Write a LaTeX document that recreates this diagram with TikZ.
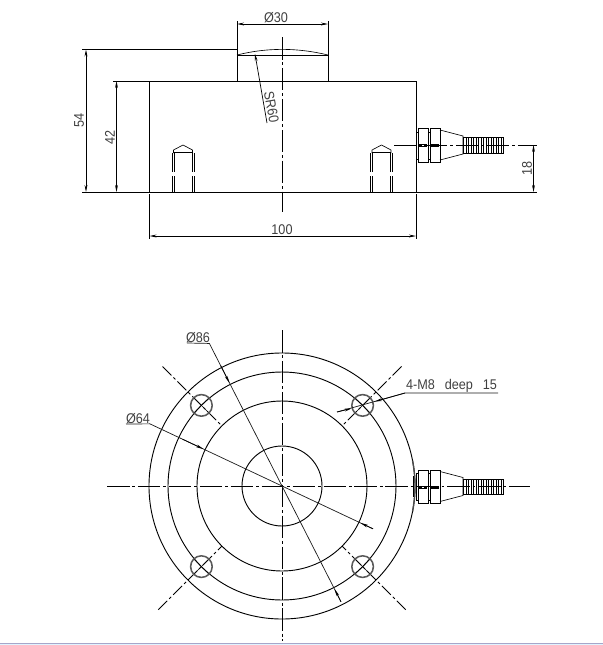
\documentclass[tikz,border=0pt]{standalone}
\usepackage{fontspec}
\setmainfont{Liberation Sans}[FakeStretch=0.9]
\usetikzlibrary{calc, arrows.meta}

\tikzset{
	part/.style = {line width = 0.65pt},
	thin part/.style = {line width = 0.45pt},
	axis/.style = {line width = 0.6pt, dash pattern = on 16pt off 2pt on 2pt off 2pt},
	dimline/.style = {line width = 0.55pt, <->, >={Stealth[length=5pt, width=2pt]}},
	leader/.style = {line width = 0.5pt, black!90},
	tip/.style = {line width = 0.5pt, -{Stealth[length=5pt, width=2pt]}},
	label/.style = {font = \fontsize{10}{11}\selectfont, text = black!75, inner sep = 0pt}
}

%cable plug, #1 = height of its axis
\newcommand{\cableplug}[1]{
	\begin{scope}[shift = {(0,-#1)}]
		%nuts
		\draw [part] (418,-17) rectangle (428,16.5);
		\draw [part] (430,-17) rectangle (440,16.5);
		\draw [part] (416,-14) -- (418,-14) (428,-14) -- (430,-14);
		\draw [part] (416,13) -- (418,13) (428,13) -- (430,13);
		\fill (419,-2) rectangle (427,1);
		\fill (431,-2) rectangle (439,1);
		\fill [white] (422,-1) rectangle (424,0);
		%cone
		\draw [thin part] (440,-15) -- (463,-9) -- (463,9) -- (440,15);
		%thread
		\draw [part] (463,-8) rectangle (503,7.5);
		\foreach \tx in {466,468.5,...,501}
			\draw [thin part] (\tx,-8) -- (\tx,7.5);
	\end{scope}
}

\begin{document}
\begin{tikzpicture}[x=0.025cm, y=0.025cm]
		\useasboundingbox (0,0) rectangle (603,-645);
		
		%front view
		\coordinate (F) at (282,-192);
		\draw [part] (149.5,-81) rectangle (416,-192);
		\draw [part] (237,-81) -- (237,-21);
		\draw [part] (328,-81) -- (328,-21);
		\draw [part] (237,-55.5) -- (328,-55.5);
		\draw [thin part] (237,-55) .. controls (267,-47.5) and (297,-47.5) .. (328,-55);
		
		%extension lines
		\draw [part] (82,-49.5) -- (237,-49.5);
		\draw [part] (113,-81) -- (149.5,-81);
		\draw [part] (82,-192) -- (537,-192);
		\draw [part] (149.5,-194) -- (149.5,-239);
		\draw [part] (416,-194) -- (416,-239);
		
		%threaded holes
		\foreach \hx in {183,381.5} {
			\draw [thin part] (\hx-9.5,-153) -- (\hx-9.5,-150) -- (\hx,-145) -- (\hx+9.5,-150) -- (\hx+9.5,-153);
			\draw [part] (\hx-9.5,-152) -- (\hx+9.5,-152);
			\foreach \hd in {-11,-9,9,11} {
				\draw [part] (\hx+\hd,-153) -- (\hx+\hd,-172);
				\draw [part] (\hx+\hd,-176) -- (\hx+\hd,-192);
			}
		}
		
		%axes of the front view
		\draw [axis] (282,-37) -- (282,-212);
		\draw [axis] (394,-145) -- (537,-145);
		\cableplug{145}
		
		%dimensions
		\coordinate (d30a) at (237,-24);
		\coordinate (d30b) at (328,-24);
		\draw [dimline] (d30a) -- (d30b);
		\node [label] (t30) at (276,-18) {Ø30};
		
		\coordinate (d54a) at (86,-49.5);
		\coordinate (d54b) at (86,-192);
		\draw [dimline] (d54a) -- (d54b);
		\node [label, rotate = 90] (t54) at (79,-120) {54};
		
		\coordinate (d42a) at (116.5,-81);
		\coordinate (d42b) at (116.5,-192);
		\draw [dimline] (d42a) -- (d42b);
		\node [label, rotate = 90] (t42) at (110,-137) {42};
		
		\coordinate (d18a) at (533.5,-145);
		\coordinate (d18b) at (533.5,-192);
		\draw [dimline] (d18a) -- (d18b);
		\node [label, rotate = 90] (t18) at (527,-168) {18};
		
		\coordinate (d100a) at (149.5,-236);
		\coordinate (d100b) at (416,-236);
		\draw [dimline] (d100a) -- (d100b);
		\node [label] (t100) at (282,-230) {100};
		
		\coordinate (srA) at (267,-123);
		\coordinate (srB) at (255,-54);
		\draw [tip] (srA) -- (srB);
		\node [label, rotate = -80] (tsr) at (271.5,-107) {SR60};
		
		%plan view
		\coordinate (O) at (282,-486);
		\foreach \r in {133,114,85,40}
			\draw [part] (O) circle [radius = \r];
		\draw [line width = 1pt, black!70] ($ (O) + (-11:133) $) arc [start angle = -11, end angle = 11, radius = 133];
		\draw [part] (416,-473) -- (416,-500);
		\draw [part] (413,-476) -- (413,-497);
		
		%holes
		\foreach \ang/\rout in {45/169, 135/169, 225/175, 315/175} {
			\coordinate (H) at ($ (O) + (\ang:114) $);
			\draw [axis, dash pattern = on 9pt off 2pt on 2pt off 2pt] ($ (O) + (\ang:\rout) $) -- ($ (O) + (\ang:85) $);
			\draw [thin part] ($ (H) + (\ang:11) $) -- ($ (H) + (\ang:-11) $);
			\draw [thin part] ($ (H) + (\ang+90:11) $) -- ($ (H) + (\ang-90:11) $);
			\draw [line width = 1.1pt, black!65] (H) circle [radius = 10.8];
		}
		
		%axes of the plan view
		\draw [axis] (282,-330) -- (282,-641);
		\draw [axis] (107,-486) -- (530,-486);
		\cableplug{486.5}
		
		%diameter 86
		\coordinate (e86) at (187,-343);
		\coordinate (a86) at ($ (O) + (117:160) $);
		\coordinate (b86) at ($ (O) + (-63:130) $);
		\draw [leader] (e86) -- (a86) -- (b86);
		\draw [tip] ($ (O) + (117:135) $) -- ($ (O) + (117:116) $);
		\draw [tip] (b86) -- ($ (O) + (-63:116) $);
		\node [label] (t86) at (198,-337.5) {Ø86};
		
		%diameter 64
		\coordinate (e64) at (126,-424);
		\coordinate (a64) at ($ (O) + (154.8:146) $);
		\coordinate (b64) at ($ (O) + (-25.2:100.6) $);
		\draw [leader] (e64) -- (a64) -- (b64);
		\draw [tip] ($ (O) + (154.8:110) $) -- ($ (O) + (154.8:87) $);
		\draw [tip] (b64) -- ($ (O) + (-25.2:87) $);
		\node [label] (t64) at (138,-418.5) {Ø64};
		
		%holes note
		\coordinate (eM) at (498,-393);
		\coordinate (aM) at (405,-393);
		\coordinate (bM) at (337,-412);
		\coordinate (cM) at (351.5,-408.5);
		\coordinate (dM) at (375,-401.5);
		\draw [leader] (eM) -- (aM) -- (bM);
		\draw [tip] (bM) -- (cM);
		\draw [tip] (aM) -- (dM);
		\node [label] (tM) at (451.5,-386) {4-M8\hspace{7pt}deep\hspace{7pt}15};
		
		%edge at the bottom
		\fill [blue!40!cyan!12] (0,-644) rectangle (603,-645);
		\fill [black!60!blue!35!white] (0,-642.8) rectangle (603,-644);
	\end{tikzpicture}
\end{document}
